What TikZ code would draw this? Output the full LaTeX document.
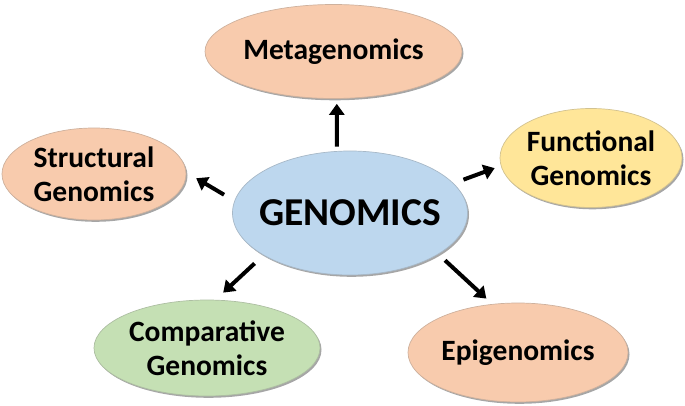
\documentclass[tikz,border=0pt]{standalone}
\usepackage{fontspec}
\setmainfont{Carlito}
\usetikzlibrary{shapes.geometric,arrows.meta,shadows}
\definecolor{salmon}{HTML}{F8CBAD}
\definecolor{skyblue}{HTML}{BDD7EE}
\definecolor{butter}{HTML}{FFE699}
\definecolor{mint}{HTML}{C5E0B4}
\begin{document}
\begin{tikzpicture}[x=1pt,y=-1pt,
  bub/.style={ellipse, inner sep=0pt, fill=#1, draw=#1!65!gray, line width=0.7pt,
    drop shadow={shadow xshift=1.5pt, shadow yshift=-1.8pt, opacity=0.35, fill=black}},
  lab/.style={font=\bfseries\fontsize{29.5}{34}\selectfont, align=center, inner sep=0pt, text=black},
  biglab/.style={font=\bfseries\fontsize{39.5}{44}\selectfont, inner sep=0pt, text=black},
  arr/.style={line width=4pt, -{Triangle[length=11pt,width=15pt]}}]
\useasboundingbox (0,0) rectangle (685,406);

\node[bub=skyblue, minimum width=235pt, minimum height=124pt,
      label={[biglab]center:GENOMICS}] (g) at (350,213) {};
\node[bub=salmon, minimum width=257pt, minimum height=94pt,
      label={[lab]center:Metagenomics}] (m) at (333.5,51.5) {};
\node[bub=salmon, minimum width=184pt, minimum height=92pt,
      label={[lab]center:Structural\\Genomics}] (s) at (94,174) {};
\node[bub=butter, minimum width=182pt, minimum height=99pt,
      label={[lab]center:Functional\\Genomics}] (f) at (591,158) {};
\node[bub=mint, minimum width=226pt, minimum height=96pt,
      label={[lab]center:Comparative\\Genomics}] (c) at (207,348) {};
\node[bub=salmon, minimum width=220pt, minimum height=99pt,
      label={[lab]center:Epigenomics}] (e) at (518,352.5) {};

\draw[arr, shorten <=4.5pt, shorten >=5pt] (g.102) -- (m.274);
\draw[arr, shorten <=12pt, shorten >=11.5pt] (g.174) -- (s.1);
\draw[arr, shorten <=10.5pt, shorten >=6.5pt] (g.16) -- (f.185);
\draw[arr, shorten <=12pt, shorten >=10.5pt] (g.206) -- (c.80);
\draw[arr, shorten <=9pt, shorten >=8pt] (g.335) -- (e.118);
\end{tikzpicture}
\end{document}
